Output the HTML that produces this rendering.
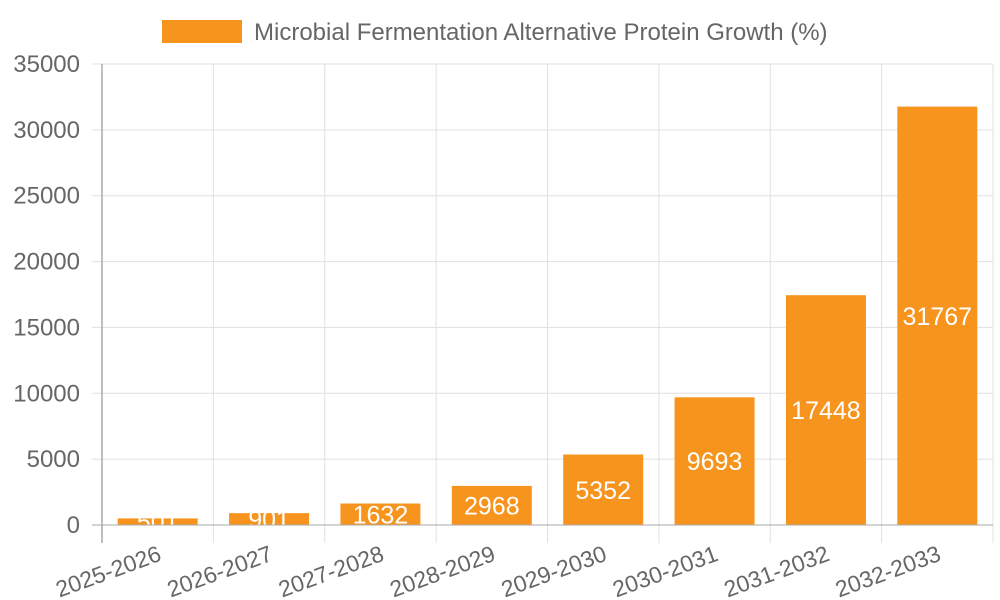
<!DOCTYPE html>
<html><head><meta charset="utf-8"><style>
html,body{margin:0;padding:0;background:#fff;}
svg{display:block;font-family:"Liberation Sans",sans-serif;}
</style></head><body>
<svg id="chart" width="1000" height="600">
<g id="grid"></g>
<g id="bars"></g>
<g id="axes"></g>
<g>
<rect x="162" y="20" width="80" height="23" fill="#f7941e"/>
<text x="254" y="40" font-size="24" fill="#666">Microbial Fermentation Alternative Protein Growth (%)</text>
</g>
</svg>
<script>
const categories=["2025-2026","2026-2027","2027-2028","2028-2029","2029-2030","2030-2031","2031-2032","2032-2033"];
const values=[501,901,1632,2968,5352,9693,17448,31767];
const yTicks=[0,5000,10000,15000,20000,25000,30000,35000];
const X0=102,X1=993,Y0=525,Y1=64,YMAX=35000;
const bw=(X1-X0)/categories.length;
function x(i){return X0+bw*i;}
function y(v){return Y0-(v/YMAX)*(Y0-Y1);}
const NS="http://www.w3.org/2000/svg";
function mk(tag,attrs,parent){const e=document.createElementNS(NS,tag);for(const k in attrs)e.setAttribute(k,attrs[k]);parent.appendChild(e);return e;}
const grid=document.getElementById('grid'),bars=document.getElementById('bars'),axes=document.getElementById('axes');
yTicks.forEach(t=>{
 const l=mk('line',{x1:92,x2:X1,y1:y(t),y2:y(t),stroke:t===0?'#aaa':'#e0e0e0','stroke-width':1},t===0?axes:grid);
 
 
 const tx=mk('text',{x:80,y:y(t)+8,'text-anchor':'end','font-size':24,fill:'#666'},axes);
 tx.textContent=t;
 
 
});
for(let i=1;i<=categories.length;i++){
 const l=mk('line',{x1:x(i),x2:x(i),y1:Y1,y2:543,stroke:'#e0e0e0','stroke-width':1},grid);
 
 
}
const ya=mk('line',{x1:X0,x2:X0,y1:Y1,y2:543,stroke:'#aaa','stroke-width':1.5},axes);


categories.forEach((c,i)=>{
 const bx=x(i)+(bw-80)/2;
 const r=mk('rect',{x:bx,y:y(values[i]),width:80,height:Y0-y(values[i]),fill:'#f7941e'},bars);
 
 
 const t=mk('text',{x:bx+40,y:(y(values[i])+Y0)/2+9,'text-anchor':'middle','font-size':25,fill:'#fff'},bars);
 t.textContent=values[i];
 
 
 const cx=x(i)+bw/2+5;
 const lt=mk('text',{x:cx,y:560,'text-anchor':'end','font-size':23,fill:'#666',transform:'rotate(-20 '+cx+' 560)'},axes);
 lt.textContent=c;
 
 
});
</script>
</body></html>
